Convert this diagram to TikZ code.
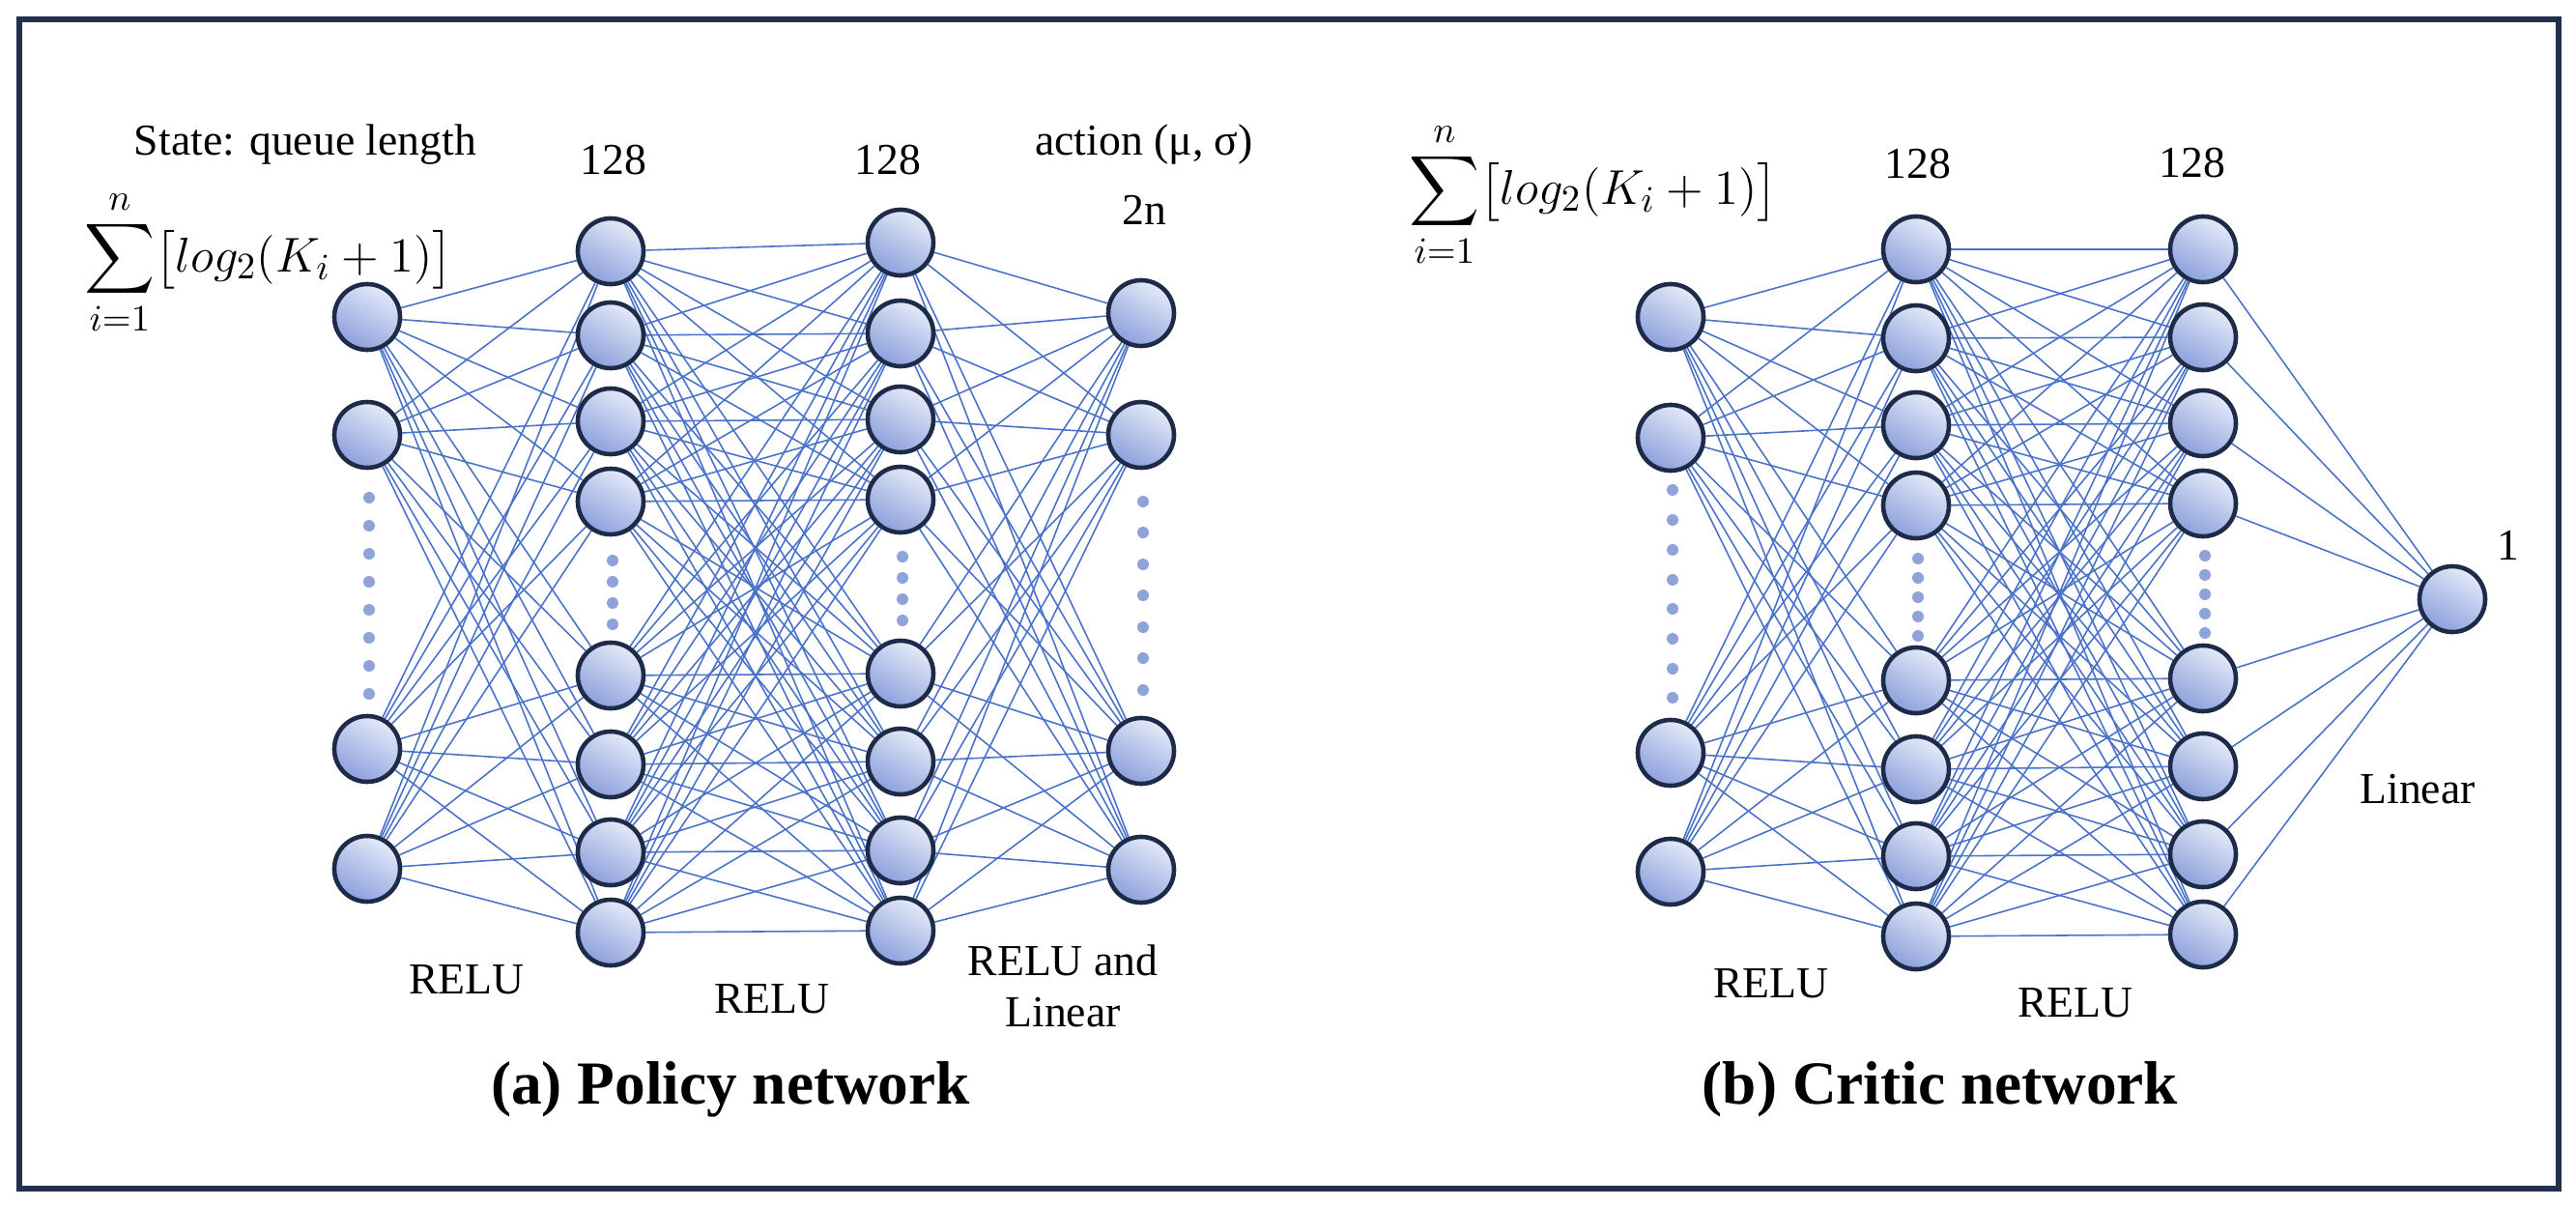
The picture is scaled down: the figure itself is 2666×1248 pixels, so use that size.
\documentclass[tikz,border=0pt]{standalone}
\usepackage{amsmath}
\usepackage{fontspec}
\setmainfont{Liberation Serif}
\usetikzlibrary{backgrounds}
\definecolor{edgeblue}{HTML}{4A72C8}
\definecolor{rimblue}{HTML}{1E2B48}
\definecolor{dotblue}{HTML}{8FA2DA}
\definecolor{nodelite}{HTML}{E4EAF8}
\definecolor{nodedeep}{HTML}{8CA0DC}
\definecolor{framenavy}{HTML}{1F3050}
\tikzset{
  neuron/.style={circle, draw=rimblue, line width=1.3pt, minimum size=0.68cm, inner sep=0pt,
    top color=nodelite, bottom color=nodedeep, shading angle=-30},
  edge/.style={edgeblue, line width=0.45pt},
  vdot/.style={dotblue, fill=dotblue},
  lbl/.style={font=\fontsize{13}{15}\selectfont},
  sumlbl/.style={font=\fontsize{15}{18}\selectfont, inner sep=1pt},
  title/.style={font=\fontsize{18}{21}\selectfont\bfseries}
}
\begin{document}
\begin{tikzpicture}[x=0.01cm,y=-0.01cm]
\useasboundingbox (0,0) rectangle (2666,1248);
\draw[framenavy, line width=1.5pt] (20,20) rectangle (2648,1230);

% policy network
\foreach \y [count=\k] in {328,450,775,899} \node[neuron] (pa-\k) at (380,\y) {};
\foreach \y [count=\k] in {260,347,436,519,699,791,882,965} \node[neuron] (pb-\k) at (632,\y) {};
\foreach \y [count=\k] in {251,345,434,517,697,788,880,963} \node[neuron] (pc-\k) at (932,\y) {};
\foreach \y [count=\k] in {324,450,777,900} \node[neuron] (pd-\k) at (1181,\y) {};
\begin{scope}[on background layer]
\foreach \i in {1,...,4} \foreach \j in {1,...,8} \draw[edge] (pa-\i) -- (pb-\j);
\foreach \i in {1,...,8} \foreach \j in {1,...,8} \draw[edge] (pb-\i) -- (pc-\j);
\foreach \i in {1,...,8} \foreach \j in {1,...,4} \draw[edge] (pc-\i) -- (pd-\j);
\end{scope}
\foreach \y in {515,544,573,602,631,660,689,718} \fill[vdot] (382,\y) circle (6);
\foreach \y in {580,602,624,646} \fill[vdot] (634,\y) circle (6);
\foreach \y in {576,598,620,642} \fill[vdot] (934,\y) circle (6);
\foreach \y in {519,551,584,616,649,681,714} \fill[vdot] (1183,\y) circle (6);

\node[lbl] (pstate) at (316,150) {State: queue length};
\node[sumlbl] (psum) at (278,272) {$\displaystyle\sum_{i=1}^{n}\bigl[log_2(K_i+1)\bigr]$};
\node[lbl] (pn1) at (635,166) {128};
\node[lbl] (pn2) at (919,166) {128};
\node[lbl] (pact) at (1184,150) {action (μ, σ)};
\node[lbl] (pout) at (1184,217) {2n};
\node[lbl] (pr1) at (483,1014) {RELU};
\node[lbl] (pr2) at (799,1034) {RELU};
\node[lbl, align=center] (pr3) at (1100,1020) {RELU and\\Linear};
\node[title] (ptitle) at (756,1127) {(a) Policy network};

% critic network
\foreach \y [count=\k] in {328,453,779,902} \node[neuron] (ca-\k) at (1729,\y) {};
\foreach \y [count=\k] in {258,350,440,523,704,796,886,969} \node[neuron] (cb-\k) at (1983,\y) {};
\foreach \y [count=\k] in {258,349,438,521,702,793,884,967} \node[neuron] (cc-\k) at (2280,\y) {};
\node[neuron] (cd-1) at (2538,620) {};
\begin{scope}[on background layer]
\foreach \i in {1,...,4} \foreach \j in {1,...,8} \draw[edge] (ca-\i) -- (cb-\j);
\foreach \i in {1,...,8} \foreach \j in {1,...,8} \draw[edge] (cb-\i) -- (cc-\j);
\foreach \i in {1,...,8} \draw[edge] (cc-\i) -- (cd-1);
\end{scope}
\foreach \y in {507,538,569,600,630,661,692,722} \fill[vdot] (1731,\y) circle (6);
\foreach \y in {578,598,618,638,658} \fill[vdot] (1985,\y) circle (6);
\foreach \y in {575,595,615,635,655} \fill[vdot] (2282,\y) circle (6);

\node[sumlbl] (csum) at (1649,202) {$\displaystyle\sum_{i=1}^{n}\bigl[log_2(K_i+1)\bigr]$};
\node[lbl] (cn1) at (1985,170) {128};
\node[lbl] (cn2) at (2269,169) {128};
\node[lbl] (cout) at (2596,564) {1};
\node[lbl] (clin) at (2502,817) {Linear};
\node[lbl] (cr1) at (1833,1018) {RELU};
\node[lbl] (cr2) at (2148,1038) {RELU};
\node[title] (ctitle) at (2008,1127) {(b) Critic network};
\end{tikzpicture}
\end{document}
